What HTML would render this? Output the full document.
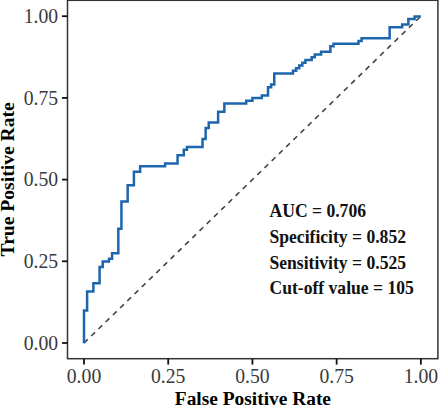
<!DOCTYPE html>
<html><head><meta charset="utf-8"><style>
html,body{margin:0;padding:0;background:#fff;}
svg{display:block;}
text{font-family:"Liberation Serif",serif;}
</style></head><body>
<svg width="440" height="407" viewBox="0 0 440 407">
<rect x="0" y="0" width="440" height="407" fill="#fff"/>
<line x1="84.0" y1="343.0" x2="420.85" y2="16.2" stroke="#444" stroke-width="1.6" stroke-dasharray="5.2 4.86"/>
<path d="M84.00,343.20 L84.00,310.52 L87.12,310.52 L87.12,291.46 L93.36,291.46 L93.36,283.29 L99.59,283.29 L99.59,266.95 L102.71,266.95 L102.71,261.50 L108.95,261.50 L108.95,258.78 L112.07,258.78 L112.07,253.33 L118.31,253.33 L118.31,228.82 L121.43,228.82 L121.43,201.59 L127.67,201.59 L127.67,185.25 L133.90,185.25 L133.90,171.63 L140.14,171.63 L140.14,166.18 L165.09,166.18 L165.09,163.46 L177.57,163.46 L177.57,155.29 L183.81,155.29 L183.81,149.84 L186.93,149.84 L186.93,147.12 L202.52,147.12 L202.52,138.95 L205.64,138.95 L205.64,128.06 L208.76,128.06 L208.76,122.61 L218.12,122.61 L218.12,111.72 L224.35,111.72 L224.35,103.55 L246.19,103.55 L246.19,100.82 L252.43,100.82 L252.43,98.10 L261.78,98.10 L261.78,95.38 L268.02,95.38 L268.02,87.21 L271.14,87.21 L271.14,84.48 L274.26,84.48 L274.26,73.59 L292.97,73.59 L292.97,70.87 L296.09,70.87 L296.09,68.14 L299.21,68.14 L299.21,65.42 L302.33,65.42 L302.33,62.70 L305.45,62.70 L305.45,59.97 L311.69,59.97 L311.69,57.25 L314.80,57.25 L314.80,54.53 L321.04,54.53 L321.04,51.80 L330.40,51.80 L330.40,46.36 L333.52,46.36 L333.52,43.63 L358.47,43.63 L358.47,40.91 L361.59,40.91 L361.59,38.19 L389.66,38.19 L389.66,27.29 L402.14,27.29 L402.14,24.57 L408.37,24.57 L408.37,19.12 L414.61,19.12 L414.61,16.40 L420.85,16.40" fill="none" stroke="#1d66ae" stroke-width="2.5" stroke-linejoin="miter" stroke-linecap="butt"/>
<rect x="67.5" y="0.3" width="370.4" height="358.4" fill="none" stroke="#333" stroke-width="1.5"/>
<g stroke="#111" stroke-width="1.8"><line x1="84.00" y1="358.7" x2="84.00" y2="364.6" /><line x1="168.21" y1="358.7" x2="168.21" y2="364.6" /><line x1="252.43" y1="358.7" x2="252.43" y2="364.6" /><line x1="336.64" y1="358.7" x2="336.64" y2="364.6" /><line x1="420.85" y1="358.7" x2="420.85" y2="364.6" /><line x1="62" y1="343.00" x2="67.5" y2="343.00" /><line x1="62" y1="261.30" x2="67.5" y2="261.30" /><line x1="62" y1="179.60" x2="67.5" y2="179.60" /><line x1="62" y1="97.90" x2="67.5" y2="97.90" /><line x1="62" y1="16.20" x2="67.5" y2="16.20" /></g>
<g font-size="19.7" fill="#3a3a3a"><text transform="translate(84.00,382.6) scale(1,1.05)" text-anchor="middle">0.00</text><text transform="translate(168.21,382.6) scale(1,1.05)" text-anchor="middle">0.25</text><text transform="translate(252.43,382.6) scale(1,1.05)" text-anchor="middle">0.50</text><text transform="translate(336.64,382.6) scale(1,1.05)" text-anchor="middle">0.75</text><text transform="translate(420.85,382.6) scale(1,1.05)" text-anchor="middle">1.00</text><text transform="translate(58.2,349.80) scale(1,1.05)" text-anchor="end">0.00</text><text transform="translate(58.2,268.10) scale(1,1.05)" text-anchor="end">0.25</text><text transform="translate(58.2,186.40) scale(1,1.05)" text-anchor="end">0.50</text><text transform="translate(58.2,104.70) scale(1,1.05)" text-anchor="end">0.75</text><text transform="translate(58.2,23.00) scale(1,1.05)" text-anchor="end">1.00</text></g>
<g font-size="17.6" font-weight="bold" fill="#111">
<text transform="translate(269.5,216.8) scale(1,1.09)">AUC = 0.706</text>
<text transform="translate(269.5,243.2) scale(1,1.09)">Specificity = 0.852</text>
<text transform="translate(269.5,268.5) scale(1,1.09)">Sensitivity = 0.525</text>
<text transform="translate(269.5,294.1) scale(1,1.09)">Cut-off value = 105</text>
</g>
<text x="252.9" y="405.2" font-size="19.4" font-weight="bold" text-anchor="middle" fill="#000">False Positive Rate</text>
<text transform="translate(13.6,179.4) rotate(-90)" x="0" y="0" font-size="19.6" font-weight="bold" text-anchor="middle" fill="#000">True Positive Rate</text>
</svg>
</body></html>
